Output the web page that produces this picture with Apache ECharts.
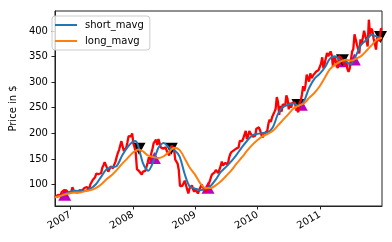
<!DOCTYPE html>
<html><head><meta charset="utf-8">
<script src="https://cdn.jsdelivr.net/npm/echarts@6/dist/echarts.min.js"></script>
<style>html,body{margin:0;padding:0;background:#fff}#c{width:392px;height:242px}</style>
</head><body><div id="c"></div><script>
// Weekly closing prices
const priceDates = [
'2006-10-02','2006-10-06','2006-10-13','2006-10-20','2006-10-27','2006-11-03','2006-11-10','2006-11-17','2006-11-24','2006-12-01','2006-12-08','2006-12-15','2006-12-22','2006-12-29',
'2007-01-05','2007-01-12','2007-01-19','2007-01-26','2007-02-02','2007-02-09','2007-02-16','2007-02-23','2007-03-02','2007-03-09','2007-03-16','2007-03-23','2007-03-30','2007-04-06','2007-04-13','2007-04-20','2007-04-27','2007-05-04','2007-05-11','2007-05-18','2007-05-25','2007-06-01','2007-06-08','2007-06-15','2007-06-22','2007-06-29','2007-07-06','2007-07-13','2007-07-20','2007-07-27','2007-08-03','2007-08-10','2007-08-17','2007-08-24','2007-08-31','2007-09-07','2007-09-14','2007-09-21','2007-09-28','2007-10-05','2007-10-12','2007-10-19','2007-10-26','2007-11-02','2007-11-09','2007-11-16','2007-11-23','2007-11-30','2007-12-07','2007-12-14','2007-12-21','2007-12-28',
'2008-01-04','2008-01-11','2008-01-18','2008-01-25','2008-02-01','2008-02-08','2008-02-15','2008-02-22','2008-02-29','2008-03-07','2008-03-14','2008-03-20','2008-03-28','2008-04-04','2008-04-11','2008-04-18','2008-04-25','2008-05-02','2008-05-09','2008-05-16','2008-05-23','2008-05-30','2008-06-06','2008-06-13','2008-06-20','2008-06-27','2008-07-03','2008-07-11','2008-07-18','2008-07-25','2008-08-01','2008-08-08','2008-08-15','2008-08-22','2008-08-29','2008-09-05','2008-09-12','2008-09-19','2008-09-26','2008-10-03','2008-10-10','2008-10-17','2008-10-24','2008-10-31','2008-11-07','2008-11-14','2008-11-21','2008-11-28','2008-12-05','2008-12-12','2008-12-19','2008-12-26',
'2009-01-02','2009-01-09','2009-01-16','2009-01-23','2009-01-30','2009-02-06','2009-02-13','2009-02-20','2009-02-27','2009-03-06','2009-03-13','2009-03-20','2009-03-27','2009-04-03','2009-04-09','2009-04-17','2009-04-24','2009-05-01','2009-05-08','2009-05-15','2009-05-22','2009-05-29','2009-06-05','2009-06-12','2009-06-19','2009-06-26','2009-07-02','2009-07-10','2009-07-17','2009-07-24','2009-07-31','2009-08-07','2009-08-14','2009-08-21','2009-08-28','2009-09-04','2009-09-11','2009-09-18','2009-09-25','2009-10-02','2009-10-09','2009-10-16','2009-10-23','2009-10-30','2009-11-06','2009-11-13','2009-11-20','2009-11-27','2009-12-04','2009-12-11','2009-12-18','2009-12-24','2009-12-31',
'2010-01-08','2010-01-15','2010-01-22','2010-01-29','2010-02-05','2010-02-12','2010-02-19','2010-02-26','2010-03-05','2010-03-12','2010-03-19','2010-03-26','2010-04-01','2010-04-09','2010-04-16','2010-04-23','2010-04-30','2010-05-07','2010-05-14','2010-05-21','2010-05-28','2010-06-04','2010-06-11','2010-06-18','2010-06-25','2010-07-02','2010-07-09','2010-07-16','2010-07-23','2010-07-30','2010-08-06','2010-08-13','2010-08-20','2010-08-27','2010-09-03','2010-09-10','2010-09-17','2010-09-24','2010-10-01','2010-10-08','2010-10-15','2010-10-22','2010-10-29','2010-11-05','2010-11-12','2010-11-19','2010-11-26','2010-12-03','2010-12-10','2010-12-17','2010-12-23','2010-12-31',
'2011-01-07','2011-01-14','2011-01-21','2011-01-28','2011-02-04','2011-02-11','2011-02-18','2011-02-25','2011-03-04','2011-03-11','2011-03-18','2011-03-25','2011-04-01','2011-04-08','2011-04-15','2011-04-21','2011-04-29','2011-05-06','2011-05-13','2011-05-20','2011-05-27','2011-06-03','2011-06-10','2011-06-17','2011-06-24','2011-07-01','2011-07-08','2011-07-15','2011-07-22','2011-07-29','2011-08-05','2011-08-12','2011-08-19','2011-08-26','2011-09-02','2011-09-09','2011-09-16','2011-09-23','2011-09-30','2011-10-07','2011-10-14','2011-10-21','2011-10-28','2011-11-04','2011-11-11','2011-11-18','2011-11-25','2011-12-02','2011-12-09','2011-12-16','2011-12-23','2011-12-30'
];
const priceValues = [
74.9,74.2,75.0,79.9,80.4,78.3,85.0,85.9,89.2,91.3,88.3,87.7,82.9,84.8,
85.4,94.6,88.5,85.4,84.8,83.3,84.8,89.1,85.4,88.0,89.6,93.2,92.9,94.7,92.2,90.9,99.9,100.8,108.7,107.3,114.3,121.3,124.5,120.5,123.0,122.0,132.8,137.7,143.8,146.0,131.9,125.0,122.1,135.3,138.5,131.8,138.8,144.2,153.5,161.5,167.3,170.4,184.7,187.9,165.4,166.4,171.5,182.2,194.3,190.4,193.9,199.8,
180.1,172.7,161.4,130.0,133.8,125.5,124.6,119.5,125.0,122.3,126.6,133.3,143.0,153.1,147.1,161.0,169.7,180.9,183.5,187.6,177.1,188.8,185.6,172.4,175.3,170.1,170.1,172.6,165.2,162.1,156.7,169.6,175.7,176.8,169.5,148.9,148.9,140.9,128.2,97.1,96.8,97.4,96.4,107.6,108.2,90.2,82.6,92.7,94.0,98.3,90.0,85.8,
90.8,90.6,82.3,88.4,90.1,99.7,99.2,91.2,89.3,85.3,95.9,101.6,106.9,115.0,119.6,123.4,123.9,128.2,129.2,122.4,122.5,135.8,144.7,136.9,139.5,142.4,140.0,138.5,151.8,159.0,163.4,165.5,166.8,169.2,170.1,170.3,172.2,185.0,182.4,184.9,190.5,188.1,204.9,188.5,194.3,204.5,199.9,200.6,193.3,194.8,195.4,209.0,210.7,
211.6,205.9,197.8,192.1,195.5,200.4,201.7,204.6,218.9,226.6,222.3,230.9,236.0,241.8,247.4,270.8,261.1,235.9,253.8,242.3,256.9,255.9,253.5,274.1,266.7,246.9,259.6,249.9,259.9,257.3,260.1,249.1,249.6,241.6,258.8,263.4,275.4,292.3,282.5,294.1,314.7,307.5,300.9,317.1,308.0,306.7,315.0,317.4,320.6,320.6,323.3,322.6,
336.1,348.5,326.7,336.1,346.5,356.9,350.6,348.2,360.0,352.0,330.0,351.5,344.6,333.3,327.5,350.7,350.1,346.7,340.5,335.2,337.4,343.4,325.9,320.3,326.4,343.3,360.0,364.9,393.3,390.5,373.6,374.0,356.0,383.6,374.1,377.5,400.5,404.3,381.3,369.8,422.0,392.9,405.0,400.2,384.9,374.9,363.6,389.7,393.6,380.0,403.4,405.0
];
// Moving averages
const mavgDates = ['2006-10-02','2006-10-31','2006-11-28','2006-12-29','2007-01-31','2007-02-28','2007-03-30','2007-04-30','2007-05-31','2007-06-29','2007-07-31','2007-08-31','2007-09-28','2007-10-31','2007-11-30','2007-12-31','2008-01-15','2008-01-31','2008-02-29','2008-03-31','2008-04-30','2008-05-30','2008-06-30','2008-07-31','2008-08-29','2008-09-30','2008-10-31','2008-11-28','2008-12-31','2009-01-30','2009-02-27','2009-03-31','2009-04-30','2009-05-29','2009-06-30','2009-07-31','2009-08-31','2009-09-30','2009-10-30','2009-11-30','2009-12-31','2010-01-29','2010-02-26','2010-03-31','2010-04-30','2010-05-28','2010-06-30','2010-07-30','2010-08-31','2010-09-30','2010-10-29','2010-11-30','2010-12-31','2011-01-31','2011-02-28','2011-03-31','2011-04-29','2011-05-31','2011-06-30','2011-07-29','2011-08-31','2011-09-30','2011-10-31','2011-11-30','2011-12-30'];
const shortMavg = [74.9,77.5,80.5,85.8,87.8,87.0,88.0,92.3,101,115,130,134,136,157,172.5,183.5,185,177,142,127,145,172,181,172,168,155,120,96.5,92,89,91,97,109.5,124,134.5,145.5,158.5,172.5,185,196,199,200.5,201.5,212,238,251,256,258.5,253.5,263.5,288.5,307,316.5,329.5,346,350,343,340,335,351,373.5,382.5,392.5,388.5,386];
const longMavg = [74.9,77.5,80.5,82.8,84.2,84.5,87.2,89.1,93.3,100,110.5,118.4,128,140.8,151,162.2,165.5,168.2,164.6,156.2,153.6,151.6,155.2,163.6,171.6,167.6,150.8,133.8,118.8,102.2,93.2,93,98.4,105.8,116.6,127.6,141.2,152.8,165.6,177.4,187,194.2,198.6,205,215.4,225.8,237.6,248.6,254.2,258.8,269.2,279.2,292.4,309.6,325.4,334.2,339.8,343.6,342,345.6,351.4,361.4,372.4,382.8,386.8];
// Trade signals
const buyDates = ['2006-11-28','2008-05-06','2009-03-16','2010-09-13','2011-05-08','2011-07-21'];
const buyValues = [80,152,93.5,256,341,344];
const sellDates = ['2008-02-06','2008-08-13','2010-08-25','2011-05-12','2011-12-21'];
const sellValues = [170,170,255.5,343,388];
const yTicks = [100,150,200,250,300,350,400];
const xTickLabels = ['2007','2008','2009','2010','2011'];

const ts = d => Date.parse(d + 'T00:00:00Z');
const pair = (d, v) => d.map((x, i) => [ts(x), v[i]]);
const xTicks = xTickLabels.map(y => ts(y + '-01-01'));
const FONT = 'DejaVu Sans';
const chart = echarts.init(document.getElementById('c'), null, {renderer: 'canvas'});
chart.setOption({
  animation: false,
  backgroundColor: '#fff',
  grid: {left: 47, right: 10, top: 11, bottom: 36, show: true, borderColor: '#222', borderWidth: 1, backgroundColor: 'transparent'},
  legend: {
    data: ['short_mavg', 'long_mavg'], orient: 'vertical', left: 52, top: 16,
    icon: 'rect', itemWidth: 22, itemHeight: 2, itemGap: 4, selectedMode: false,
    padding: [3, 6, 3, 3], borderColor: '#ccc', borderWidth: 1, borderRadius: 3,
    backgroundColor: 'rgba(255,255,255,0.8)',
    textStyle: {fontSize: 10, color: '#000', fontFamily: FONT, lineHeight: 12, padding: [0, 0, 0, 3]}
  },
  xAxis: {
    type: 'value', min: ts('2006-10-02'), max: ts('2011-12-30'), scale: true,
    axisLine: {show: true, onZero: false, lineStyle: {color: '#222', width: 1}},
    axisTick: {show: true, length: 3.5, lineStyle: {color: '#222'}, customValues: xTicks},
    axisLabel: {customValues: xTicks, rotate: 30, fontSize: 10, color: '#000', fontFamily: FONT, margin: 8,
      formatter: v => String(new Date(v).getUTCFullYear())},
    splitLine: {show: false}
  },
  yAxis: {
    type: 'value', min: 58, max: 439,
    name: 'Price in $', nameLocation: 'middle', nameGap: 34,
    nameTextStyle: {fontSize: 10, color: '#000', fontFamily: FONT},
    axisLine: {show: true, lineStyle: {color: '#222', width: 1}},
    axisTick: {show: true, length: 3.5, lineStyle: {color: '#222'}, customValues: yTicks},
    axisLabel: {customValues: yTicks, fontSize: 10, color: '#000', fontFamily: FONT, margin: 7},
    splitLine: {show: false}
  },
  series: [
    {name: 'price', type: 'line', data: pair(priceDates, priceValues), showSymbol: false, lineStyle: {color: '#ff0000', width: 2.3}, itemStyle: {color: '#ff0000'}},
    {name: 'short_mavg', type: 'line', data: pair(mavgDates, shortMavg), smooth: 0.3, showSymbol: false, lineStyle: {color: '#1f77b4', width: 2}, itemStyle: {color: '#1f77b4'}},
    {name: 'long_mavg', type: 'line', data: pair(mavgDates, longMavg), smooth: 0.3, showSymbol: false, lineStyle: {color: '#ff7f0e', width: 2}, itemStyle: {color: '#ff7f0e'}},
    {name: 'buy', type: 'scatter', data: pair(buyDates, buyValues), symbol: 'triangle', symbolSize: [13, 12], itemStyle: {color: '#bf00bf', opacity: 1}},
    {name: 'sell', type: 'scatter', data: pair(sellDates, sellValues), symbol: 'triangle', symbolRotate: 180, symbolSize: [13, 12], itemStyle: {color: '#000', opacity: 1}}
  ]
});
</script></body></html>
